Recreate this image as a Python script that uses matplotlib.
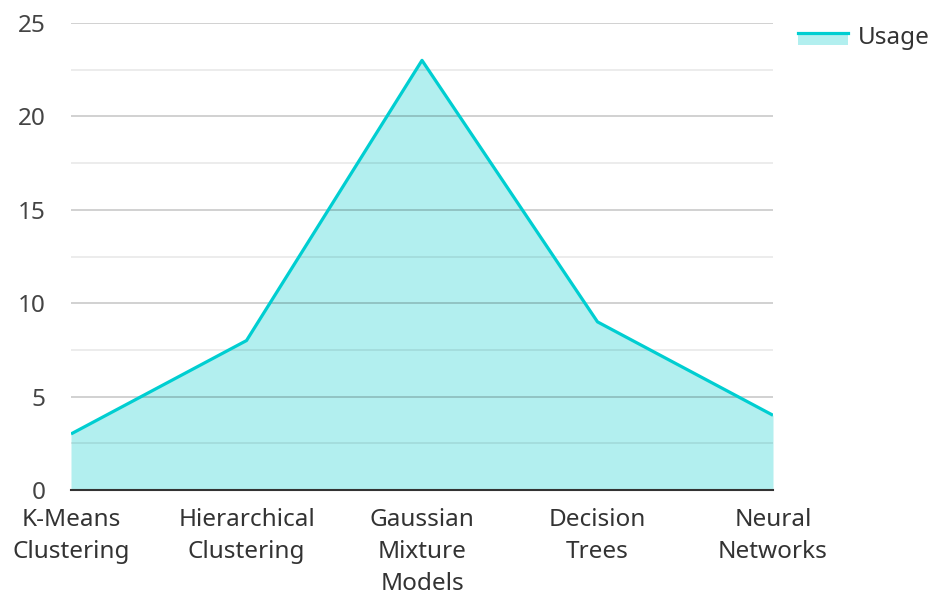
import matplotlib.pyplot as plt
from matplotlib.patches import Rectangle
from matplotlib.lines import Line2D
import numpy as np

categories = ["K-Means\nClustering", "Hierarchical\nClustering", "Gaussian\nMixture\nModels",
              "Decision\nTrees", "Neural\nNetworks"]
usage = [3, 8, 23, 9, 4]
series_name = "Usage"

line_color = "#00CED1"
fill_color = "#B2EFEF"

plt.rcParams['font.family'] = ['Noto Sans', 'DejaVu Sans']

fig = plt.figure(figsize=(9.33, 5.94), dpi=100)
ax = fig.add_axes([71/933, 104/594, 702/933, 467/594])

x = np.arange(len(categories))
ax.fill_between(x, usage, 0, color=fill_color, linewidth=0, zorder=1)
ax.plot(x, usage, color=line_color, linewidth=2.3, zorder=3, solid_capstyle='butt')

ax.set_xlim(0, len(categories) - 1)
ax.set_ylim(0, 25)
ax.set_xticks(x)
ax.set_xticklabels(categories, fontsize=17.5, color="#333333", linespacing=1.43)
ax.set_yticks(np.arange(0, 26, 5))
ax.set_yticks(np.arange(2.5, 25, 5), minor=True)
ax.tick_params(axis='y', which='both', length=0, pad=18.5, labelsize=17.5, labelcolor="#444444")
ax.tick_params(axis='x', length=0, pad=13)

# grid drawn over the area, like the reference
ax.grid(axis='y', which='major', color="#000000", alpha=0.21, linewidth=1.2, zorder=2)
ax.grid(axis='y', which='minor', color="#000000", alpha=0.09, linewidth=1.2, zorder=2)
ax.set_axisbelow(False)
for s in ['top', 'right', 'left']:
    ax.spines[s].set_visible(False)
ax.spines['bottom'].set_color("#333333")
ax.spines['bottom'].set_linewidth(1.5)
ax.spines['bottom'].set_zorder(4)


class AreaHandler:
    def legend_artist(self, legend, orig_handle, fontsize, handlebox):
        x0, y0 = handlebox.xdescent, handlebox.ydescent
        w, h = handlebox.width, handlebox.height
        rect = Rectangle((x0, y0), w, h * 0.8, facecolor=fill_color, edgecolor='none',
                         transform=handlebox.get_transform())
        ln = Line2D([x0, x0 + w], [y0 + h * 0.8, y0 + h * 0.8], color=line_color,
                    linewidth=2.3, transform=handlebox.get_transform())
        handlebox.add_artist(rect)
        handlebox.add_artist(ln)
        return rect


proxy = Rectangle((0, 0), 1, 1)
fig.legend([proxy], [series_name], handler_map={Rectangle: AreaHandler()},
           loc='upper left', bbox_to_anchor=(781/933, 1 - 9/594), frameon=False,
           fontsize=17.5, handlelength=2.06, handleheight=0.6, handletextpad=0.4,
           labelcolor="#333333", borderpad=0.2)

fig.savefig("out.png", dpi=100)
